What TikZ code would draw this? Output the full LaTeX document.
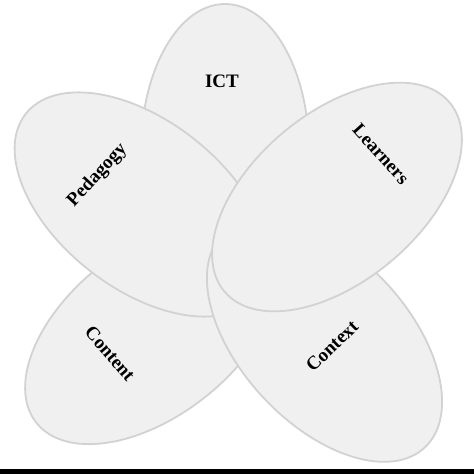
\documentclass[tikz,border=0pt]{standalone}
\usepackage{fontspec}
\setmainfont{Liberation Serif}
\usetikzlibrary{shapes.geometric}
\definecolor{petalfill}{HTML}{F0F0F0}
\definecolor{petaledge}{HTML}{D2D2D2}
\tikzset{
  petal/.style={ellipse, draw=petaledge, fill=petalfill, line width=1.8pt,
    minimum width=294pt, minimum height=168pt, inner sep=0pt, outer sep=0pt},
  petallabel/.style={font=\fontsize{19}{19}\selectfont\bfseries, text=black, inner sep=0pt}
}
\begin{document}
\begin{tikzpicture}[x=1pt,y=1pt]
\useasboundingbox (0,0) rectangle (474,474);
\fill[white] (0,0) rectangle (474,474);
% petals (drawing order matters)
\node[petal, rotate=90]  (ict) at (225,323) {};
\node[petal, rotate=38]  (content) at (152,142) {};
\node[petal, rotate=-38] (pedagogy) at (141.5,269.5) {};
\node[petal, rotate=-47] (context) at (324.5,134) {};
\node[petal, rotate=40]  (learners) at (337,277) {};
% labels
\node[petallabel] (lict) at (222,393) {ICT};
\node[petallabel, rotate=47] (lped) at (97.5,298.5) {Pedagogy};
\node[petallabel, rotate=-48] (llea) at (381,320) {Learners};
\node[petallabel, rotate=-49] (lcon) at (110,120.5) {Content};
\node[petallabel, rotate=44] (lctx) at (332,128) {Context};
% bottom bar
\fill[black] (0,0) rectangle (474,4.8);
\end{tikzpicture}
\end{document}
